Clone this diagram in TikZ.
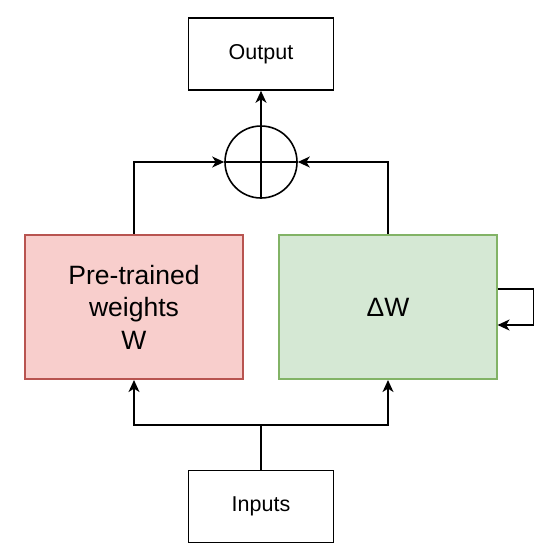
\documentclass[tikz,border=0pt]{standalone}
\usepackage{fontspec}
\setmainfont{Liberation Sans}
\usetikzlibrary{arrows.meta}
\definecolor{rosefond}{HTML}{F8CECC}
\definecolor{rosebord}{HTML}{B85450}
\definecolor{vertfond}{HTML}{D5E8D4}
\definecolor{vertbord}{HTML}{82B366}

\begin{document}
\begin{tikzpicture}[x=1pt,y=-1pt,
  boite/.style={draw,line width=1.6pt,minimum width=145pt,minimum height=72pt,
    font=\fontsize{21.5}{26}\selectfont},
  bloc/.style={line width=1.6pt,minimum width=217.5pt,minimum height=144.5pt,
    align=center,font=\fontsize{26.5}{32.5}\selectfont},
  fleche/.style={line width=1.6pt,-{Stealth[length=12pt,width=11pt,inset=3.5pt]}}]
\useasboundingbox (0,0) rectangle (543,558);

% les boites
\node[boite] (out) at (261,54) {Output};
\node[boite] (in) at (261,506.5) {Inputs};
\node[bloc,draw=rosebord,fill=rosefond] (w) at (134,307) {Pre-trained\\weights\\W};
\node[bloc,draw=vertbord,fill=vertfond] (dw) at (388,307) {ΔW};

% le cercle de la somme
\node[circle,draw,line width=1.6pt,minimum size=72pt,inner sep=0pt] (plus) at (261,162) {};
\draw[line width=1.6pt] (plus.north)--(plus.south);
\draw[line width=1.6pt] (plus.west)--(plus.east);

% les liaisons vers la sortie
\draw[fleche] (plus.north) -- (out.south);
\draw[fleche] (w.north) |- (plus.west);
\draw[fleche] (dw.north) |- (plus.east);

% les liaisons depuis les entrees
\coordinate (fourche) at (261,425);
\draw[line width=1.6pt] (in.north) -- (fourche);
\draw[fleche] (fourche) -| (w.south);
\draw[fleche] (fourche) -| (dw.south);

% la boucle sur delta W
\draw[fleche] ([yshift=18pt]dw.east) -- ++(36,0) |- ([yshift=-18pt]dw.east);
\end{tikzpicture}
\end{document}
